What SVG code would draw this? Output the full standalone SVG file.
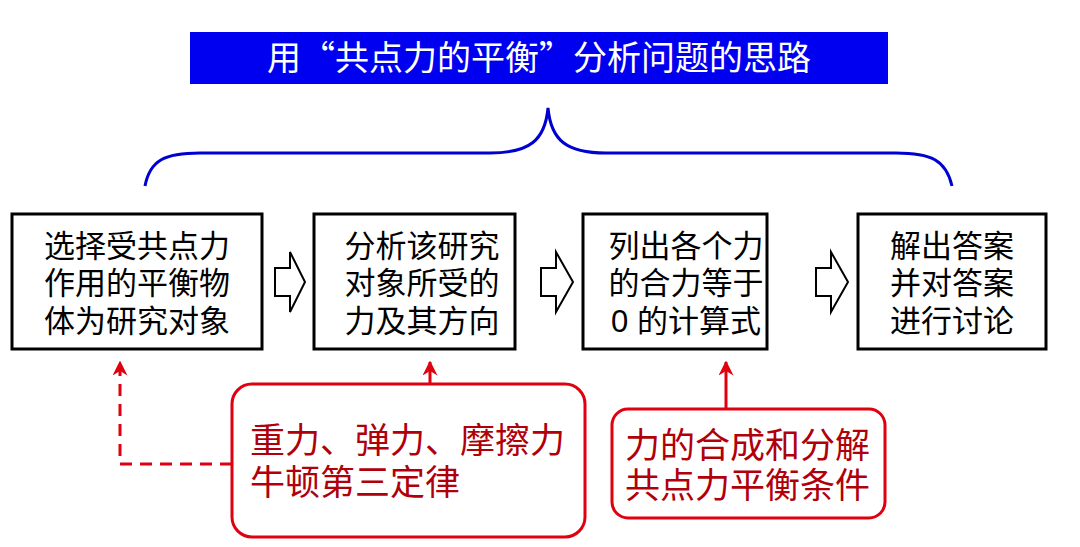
<svg xmlns="http://www.w3.org/2000/svg" width="1080" height="547" viewBox="0 0 1080 547">
<defs>
<style>
text{font-family:"Liberation Sans","Noto Sans CJK SC",sans-serif;}
.title{font-family:"Noto Sans CJK SC","Liberation Sans",sans-serif;font-size:34px;fill:#fff;text-anchor:middle;}
.box{fill:#fff;stroke:#000;stroke-width:3;}
.bt{font-size:31px;fill:#000;text-anchor:middle;}
.rbox{fill:#fff;stroke:#e00010;stroke-width:3;}
.rt{font-size:35px;fill:#b0000a;}
.harrow{fill:#fff;stroke:#000;stroke-width:2;stroke-linejoin:miter;}
.rl{stroke:#e00010;stroke-width:3;fill:none;}
</style>
<marker id="ah" viewBox="0 0 10 10" refX="9" refY="5" markerWidth="5" markerHeight="5" markerUnits="strokeWidth" orient="auto">
<path d="M0,0 L10,5 L0,10 L3,5 Z" fill="#e00010"/>
</marker>
</defs>
<rect width="1080" height="547" fill="#fff"/>
<g id="title">
<rect x="190" y="32" width="698" height="52" fill="#0000f0"/>
<text class="title" x="539" y="70">用“共点力的平衡”分析问题的思路</text>
</g>
<g id="brace">
<path d="M145,186 C150,160 165,153 200,153 L490,153 C530,153 545,140 548,108 C551,140 566,153 606,153 L896,153 C931,153 946,160 952,186" fill="none" stroke="#0000d0" stroke-width="3"/>
</g>
<g id="n1">
<rect class="box" x="12" y="214" width="250" height="135"/>
<text class="bt"><tspan x="137" y="257">选择受共点力</tspan><tspan x="137" y="294">作用的平衡物</tspan><tspan x="137" y="332">体为研究对象</tspan></text>
</g>
<g id="n2">
<rect class="box" x="314" y="214" width="201" height="135"/>
<text class="bt"><tspan x="422" y="257">分析该研究</tspan><tspan x="422" y="294">对象所受的</tspan><tspan x="422" y="332">力及其方向</tspan></text>
</g>
<g id="n3">
<rect class="box" x="583" y="214" width="184" height="135"/>
<text class="bt"><tspan x="686" y="257">列出各个力</tspan><tspan x="686" y="294">的合力等于</tspan><tspan x="686" y="332">0 的计算式</tspan></text>
</g>
<g id="n4">
<rect class="box" x="858" y="214" width="188" height="135"/>
<text class="bt"><tspan x="952" y="257">解出答案</tspan><tspan x="952" y="294">并对答案</tspan><tspan x="952" y="332">进行讨论</tspan></text>
</g>
<g id="r1">
<rect class="rbox" x="232" y="384" width="353" height="153" rx="20"/>
<text class="rt"><tspan x="250" y="453">重力、弹力、摩擦力</tspan><tspan x="250" y="495">牛顿第三定律</tspan></text>
</g>
<g id="r2">
<rect class="rbox" x="612" y="409" width="273" height="109" rx="16"/>
<text class="rt"><tspan x="625" y="458">力的合成和分解</tspan><tspan x="625" y="498">共点力平衡条件</tspan></text>
</g>
<g id="connectors">
<path class="harrow" d="M275,268 L290,268 L290,252 L305,282 L290,312 L290,296 L275,296 Z"/>
<path class="harrow" d="M541,268 L556,268 L556,252 L573,282 L556,312 L556,296 L541,296 Z"/>
<path class="harrow" d="M816,268 L831,268 L831,252 L848,282 L831,312 L831,296 L816,296 Z"/>
<line class="rl" x1="430" y1="384" x2="430" y2="362" marker-end="url(#ah)"/>
<line class="rl" x1="726" y1="409" x2="726" y2="362" marker-end="url(#ah)"/>
<path class="rl" d="M232,464 L120,464 L120,362" stroke-dasharray="12,8" marker-end="url(#ah)"/>
</g>
</svg>
